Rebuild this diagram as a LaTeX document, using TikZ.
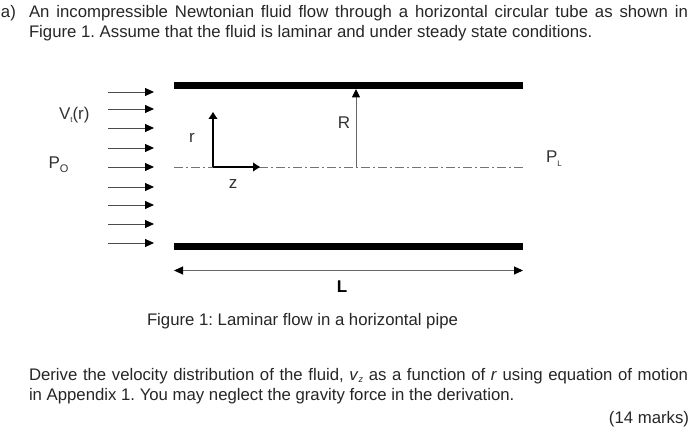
\documentclass[tikz,border=0pt]{standalone}
\usepackage{fontspec}
\setmainfont{Liberation Sans}
\usetikzlibrary{arrows.meta}
\tikzset{
  txt/.style={anchor=base west,inner sep=0pt,outer sep=0pt,text=black!85,font=\fontsize{16.75}{18}\selectfont\frenchspacing},
  lab/.style={inner sep=0pt,outer sep=0pt,text=black!80,font=\fontsize{17}{18}\selectfont},
  flow/.style={draw=black!70,line width=0.9pt,-{Triangle[length=9pt,width=8pt,fill=black,color=black]}},
  wall/.style={draw=none,fill=black},
  axis/.style={draw=black,line width=2pt,-{Triangle[length=7pt,width=8.5pt,fill=black,color=black]}},
  centre/.style={draw=black!55,line width=0.8pt,dash pattern=on 9pt off 3pt on 2pt off 3pt},
  dim/.style={draw=black!60,line width=1pt},
}
\begin{document}
\begin{tikzpicture}[x=1pt,y=-1pt]
\useasboundingbox[fill=white] (0,0) rectangle (693,435);
% text
\node[txt] (la) at (1,17.5) {a)};
\node[txt] (l1) at (29,17.5) {\makebox[659pt][s]{An incompressible Newtonian fluid flow through a horizontal circular tube as shown in}};
\node[txt] (l2) at (29,37.5) {Figure 1. Assume that the fluid is laminar and under steady state conditions.};
\node[txt] (cap) at (147,325.5) {Figure 1: Laminar flow in a horizontal pipe};
\node[txt] (d1) at (29,380.5) {\makebox[659pt][s]{Derive the velocity distribution of the fluid, \textit{v}{\fontsize{9}{9}\selectfont\raisebox{-2pt}{\textit{z}}} as a function of \textit{r} using equation of motion}};
\node[txt] (d2) at (29,400) {in Appendix 1. You may neglect the gravity force in the derivation.};
\node[txt,anchor=base east] (marks) at (689,423.5) {(14 marks)};
% walls
\node[wall,minimum width=349pt,minimum height=7pt,inner sep=0pt,anchor=north west] (top) at (174,81.5) {};
\node[wall,minimum width=349pt,minimum height=7pt,inner sep=0pt,anchor=north west] (bot) at (174,243) {};
% centre line
\coordinate (cl) at (174,167);
\coordinate (cr) at (523,167);
\draw[centre] (cl) -- (cr);
% inlet arrows
\foreach \n/\y in {a/92,b/109,c/128,d/148,e/167,f/187,g/205,h/224,i/243}{
  \coordinate (s\n) at (108,\y);
  \coordinate (t\n) at (154,\y);
  \draw[flow] (s\n) -- (t\n);
}
% axes
\coordinate (o) at (213,167);
\coordinate (rt) at (213,112);
\coordinate (zt) at (260,167);
\draw[axis] (o) -- (rt);
\draw[axis] (o) -- (zt);
% R
\coordinate (rb) at (356,167);
\coordinate (ra) at (356,89);
\draw[dim,-{Triangle[length=8.5pt,width=8pt,fill=black,color=black]}] (rb) -- (ra);
% L
\coordinate (ll) at (174,270.5);
\coordinate (lr) at (523,270.5);
\draw[dim,{Triangle[length=9pt,width=8pt,fill=black,color=black]}-{Triangle[length=9pt,width=8pt,fill=black,color=black]}] (ll) -- (lr);
% labels
\node[lab,anchor=base west] (vt) at (59,119.5) {V\raisebox{-3pt}{\fontsize{8}{8}\selectfont t}(r)};
\node[lab,anchor=base west] (po) at (48.5,168.5) {P\raisebox{-4pt}{\fontsize{11}{9}\selectfont O}};
\node[lab,anchor=base] (rl) at (192,143) {r};
\node[lab,anchor=base] (zl) at (233,189) {z};
\node[lab,anchor=base] (rr) at (344,129) {R};
\node[lab,anchor=base west] (pl) at (546,163) {P\raisebox{-3.5pt}{\fontsize{8}{8}\selectfont L}};
\node[lab,anchor=base,text=black,font=\fontsize{17}{18}\selectfont\bfseries] (ltxt) at (342,293) {L};
\end{tikzpicture}
\end{document}
